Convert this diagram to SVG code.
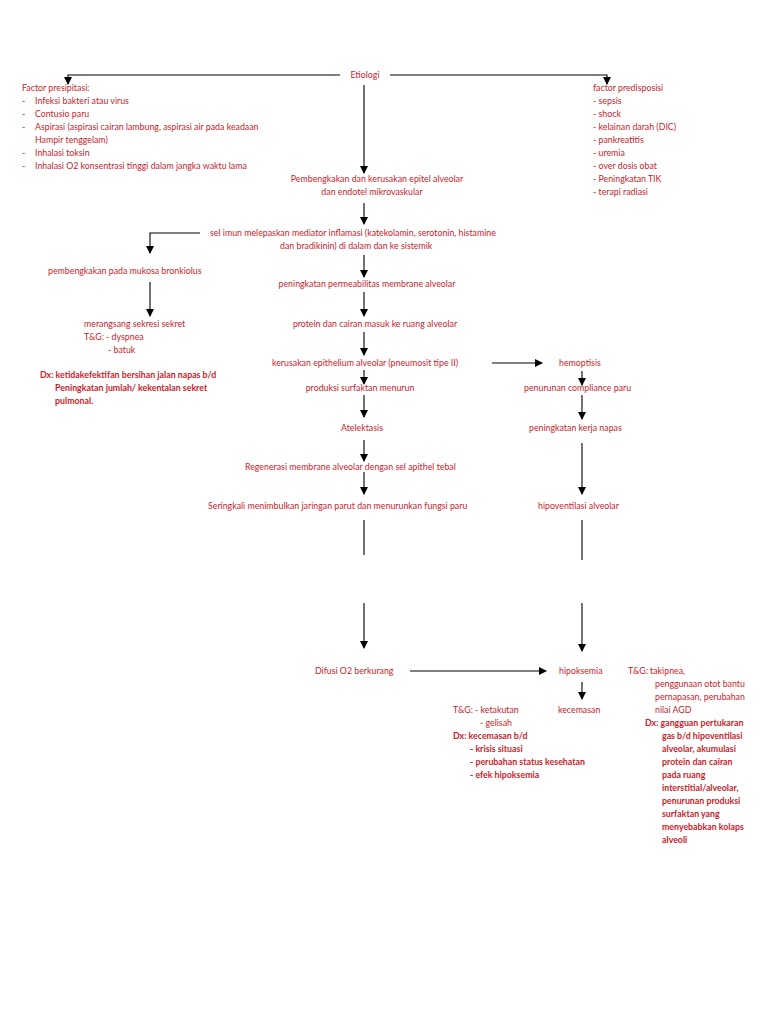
<svg xmlns="http://www.w3.org/2000/svg" width="768" height="1024" viewBox="0 0 768 1024">
<defs>
<marker id="ah" markerWidth="8" markerHeight="8" refX="7" refY="4" orient="auto" markerUnits="userSpaceOnUse"><path d="M0,0 L8,4 L0,8 z" fill="#000"/></marker>
<style>
text{font-family:Lato,"Open Sans",sans-serif;font-size:8.8px;fill:#c8232c}
.b{font-weight:bold}
.m{text-anchor:middle}
.c{stroke:#000;stroke-width:1.1;fill:none}
.a{marker-end:url(#ah)}
</style>
</defs>
<rect width="768" height="1024" fill="#fff"/>
<g id="connectors">
<polyline class="c a" points="340,75 68,75 68,84"/>
<polyline class="c a" points="390,75 607,75 607,84"/>
<line class="c a" x1="364" y1="85" x2="364" y2="173"/>
<line class="c a" x1="364" y1="203" x2="364" y2="224"/>
<polyline class="c a" points="200,233 150,233 150,253"/>
<line class="c a" x1="364" y1="255" x2="364" y2="277"/>
<line class="c a" x1="150" y1="282" x2="150" y2="316"/>
<line class="c a" x1="364" y1="292" x2="364" y2="316"/>
<line class="c a" x1="364" y1="332" x2="364" y2="355"/>
<line class="c a" x1="492" y1="363" x2="542" y2="363"/>
<line class="c a" x1="364" y1="370" x2="364" y2="384"/>
<line class="c a" x1="582" y1="371" x2="582" y2="385"/>
<line class="c a" x1="364" y1="395" x2="364" y2="417"/>
<line class="c a" x1="582" y1="395" x2="582" y2="419"/>
<line class="c a" x1="364" y1="440" x2="364" y2="461"/>
<line class="c a" x1="582" y1="443" x2="582" y2="494"/>
<line class="c a" x1="364" y1="472" x2="364" y2="494"/>
<line class="c" x1="364" y1="520" x2="364" y2="555"/>
<line class="c" x1="582" y1="520" x2="582" y2="560"/>
<line class="c a" x1="364" y1="603" x2="364" y2="648"/>
<line class="c a" x1="582" y1="603" x2="582" y2="651"/>
<line class="c a" x1="410" y1="671" x2="546" y2="671"/>
<line class="c a" x1="582" y1="682" x2="582" y2="699"/>
</g>
<g id="etiologi"><text class="m" x="365" y="78">Etiologi</text></g>
<g id="presipitasi">
<text x="22" y="91">Factor presipitasi:</text>
<text x="22" y="104">-</text><text x="35" y="104">Infeksi bakteri atau virus</text>
<text x="22" y="117">-</text><text x="35" y="117">Contusio paru</text>
<text x="22" y="130">-</text><text x="35" y="130">Aspirasi (aspirasi cairan lambung, aspirasi air pada keadaan</text>
<text x="35" y="143">Hampir  tenggelam)</text>
<text x="22" y="156">-</text><text x="35" y="156">Inhalasi toksin</text>
<text x="22" y="169">-</text><text x="35" y="169">Inhalasi O2 konsentrasi tinggi dalam jangka waktu lama</text>
</g>
<g id="predisposisi">
<text x="593" y="91">factor predisposisi</text>
<text x="593" y="104">-  sepsis</text>
<text x="593" y="117">-  shock</text>
<text x="593" y="130">-  kelainan darah (DIC)</text>
<text x="593" y="143">-  pankreatitis</text>
<text x="593" y="156">-  uremia</text>
<text x="593" y="169">-  over dosis obat</text>
<text x="593" y="182">-  Peningkatan TIK</text>
<text x="593" y="195">-  terapi radiasi</text>
</g>
<g id="pembengkakan"><text class="m" x="377" y="182">Pembengkakan dan kerusakan epitel alveolar</text><text class="m" x="372" y="195">dan endotel mikrovaskular</text></g>
<g id="selimun"><text x="210" y="236">sel imun melepaskan mediator inflamasi (katekolamin, serotonin, histamine</text><text x="280" y="249">dan bradikinin) di dalam dan ke sistemik</text></g>
<g id="mukosa"><text x="48" y="274">pembengkakan pada mukosa bronkiolus</text></g>
<g id="sekret"><text x="84" y="327">merangsang sekresi sekret</text><text x="84" y="340">T&amp;G: - dyspnea</text><text x="108" y="353">- batuk</text></g>
<g id="dx1" class="b"><text class="b" x="40" y="378">Dx: ketidakefektifan bersihan jalan napas b/d</text><text class="b" x="55" y="391">Peningkatan jumlah/ kekentalan sekret</text><text class="b" x="55" y="404">pulmonal.</text></g>
<g id="permeabilitas"><text class="m" x="367" y="287">peningkatan permeabilitas membrane alveolar</text></g>
<g id="protein"><text class="m" x="375" y="327">protein dan cairan masuk ke ruang alveolar</text></g>
<g id="epithelium"><text x="272" y="366">kerusakan epithelium alveolar (pneumosit tipe II)</text></g>
<g id="hemoptisis"><text x="559" y="366">hemoptisis</text></g>
<g id="surfaktan"><text class="m" x="360" y="391">produksi surfaktan menurun</text></g>
<g id="compliance"><text x="524" y="391">penurunan compliance paru</text></g>
<g id="atelektasis"><text class="m" x="362" y="431">Atelektasis</text></g>
<g id="kerjanapas"><text x="529" y="431">peningkatan kerja napas</text></g>
<g id="regenerasi"><text x="245" y="470">Regenerasi membrane alveolar dengan sel apithel tebal</text></g>
<g id="seringkali"><text x="208" y="509">Seringkali menimbulkan jaringan parut dan menurunkan fungsi paru</text></g>
<g id="hipoventilasi"><text x="538" y="509">hipoventilasi alveolar</text></g>
<g id="difusi"><text x="315" y="674">Difusi O2 berkurang</text></g>
<g id="hipoksemia"><text x="559" y="674">hipoksemia</text></g>
<g id="kecemasan"><text x="558" y="713">kecemasan</text></g>
<g id="tg2">
<text x="453" y="713">T&amp;G: - ketakutan</text><text x="480" y="726">- gelisah</text>
<text class="b" x="453" y="739">Dx: kecemasan b/d</text>
<text class="b" x="470" y="752">- krisis situasi</text>
<text class="b" x="470" y="765">- perubahan status kesehatan</text>
<text class="b" x="470" y="778">- efek hipoksemia</text>
</g>
<g id="tg3">
<text x="628" y="674">T&amp;G:  takipnea,</text>
<text x="655" y="687">penggunaan otot bantu</text>
<text x="655" y="700">pernapasan, perubahan</text>
<text x="655" y="713">nilai AGD</text>
<text class="b" x="645" y="726">Dx: gangguan pertukaran</text>
<text class="b" x="662" y="739">gas b/d hipoventilasi</text>
<text class="b" x="662" y="752">alveolar, akumulasi</text>
<text class="b" x="662" y="765">protein dan cairan</text>
<text class="b" x="662" y="778">pada ruang</text>
<text class="b" x="662" y="791">interstitial/alveolar,</text>
<text class="b" x="662" y="804">penurunan produksi</text>
<text class="b" x="662" y="817">surfaktan yang</text>
<text class="b" x="662" y="830">menyebabkan kolaps</text>
<text class="b" x="662" y="843">alveoli</text>
</g>
</svg>
